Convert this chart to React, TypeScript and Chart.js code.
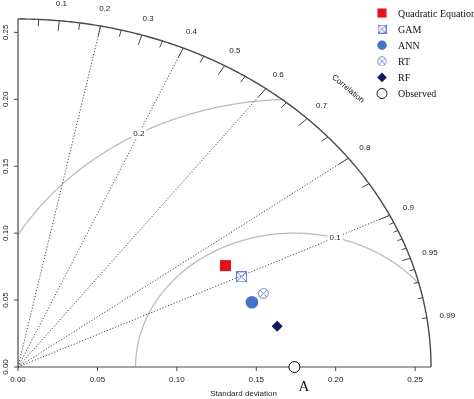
import React, { useEffect, useRef } from 'react';
import { Chart, registerables } from 'chart.js';
import * as helpers from 'chart.js/helpers';

Chart.register(...registerables);

// ---- data ----
const models = ['Quadratic Equation', 'GAM', 'ANN', 'RT', 'RF'];
const modelSd = [0.151, 0.156, 0.155, 0.164, 0.166];
const modelCorr = [0.865, 0.902, 0.95, 0.942, 0.983];
const observedLabel = 'Observed';
const observedSd = 0.174;
const maxSd = 0.26;
const sdTicks = [0, 0.05, 0.1, 0.15, 0.2, 0.25];
const sdTickLabels = ['0.00', '0.05', '0.10', '0.15', '0.20', '0.25'];
const corrLabelValues = [0.1, 0.2, 0.3, 0.4, 0.5, 0.6, 0.7, 0.8, 0.9, 0.95, 0.99];
const corrLines = [0.2, 0.4, 0.6, 0.8, 0.9];
const bigTicks = [0.1, 0.2, 0.3, 0.4, 0.5, 0.6, 0.7, 0.8, 0.9];
const medTicks = [0.05, 0.15, 0.25, 0.35, 0.45, 0.55, 0.65, 0.75, 0.85, 0.95];
const smallTicks = [0.91, 0.92, 0.93, 0.94, 0.96, 0.97, 0.98, 0.99];
const rmsLevels = [0.1, 0.2];
const rmsLabelOnCorr = [0.9, 0.4];

const SANS = '"Liberation Sans", Arial, sans-serif';
const SERIF = '"Liberation Serif", "Times New Roman", serif';

function makeBoxX(size: number, color: string) {
  const c = document.createElement('canvas');
  c.width = size; c.height = size;
  const g = c.getContext('2d')!;
  g.strokeStyle = color; g.lineWidth = 1;
  g.strokeRect(0.5, 0.5, size - 1, size - 1);
  g.beginPath();
  g.moveTo(0.5, 0.5); g.lineTo(size - 0.5, size - 0.5);
  g.moveTo(size - 0.5, 0.5); g.lineTo(0.5, size - 0.5);
  g.stroke();
  return c;
}
function makeCircleX(size: number, color: string) {
  const c = document.createElement('canvas');
  c.width = size; c.height = size;
  const g = c.getContext('2d')!;
  const m = size / 2, r = size / 2 - 0.6;
  g.strokeStyle = color; g.lineWidth = 1;
  g.beginPath(); g.arc(m, m, r, 0, Math.PI * 2); g.stroke();
  const d = r * Math.SQRT1_2;
  g.beginPath();
  g.moveTo(m - d, m - d); g.lineTo(m + d, m + d);
  g.moveTo(m + d, m - d); g.lineTo(m - d, m + d);
  g.stroke();
  return c;
}

export default function App() {
  const ref = useRef<HTMLCanvasElement>(null);
  useEffect(() => {
    const canvas = ref.current!;
    const gamColor = '#6a76d8';
    const rtColor = '#7482c6';
    const styles: any[] = [
      { pointStyle: 'rect', radius: 7.8, bg: '#e8101a', border: '#e8101a', bw: 0, lr: 6.4 },
      { pointStyle: makeBoxX(11, gamColor), legendStyle: makeBoxX(9, gamColor), radius: 5.5, bg: 'rgba(0,0,0,0)', border: gamColor, bw: 1, lr: 4.5 },
      { pointStyle: 'circle', radius: 6.3, bg: '#4472c4', border: '#4472c4', bw: 0, lr: 4.7 },
      { pointStyle: makeCircleX(11, rtColor), legendStyle: makeCircleX(10, '#8a98d8'), radius: 5.5, bg: 'rgba(0,0,0,0)', border: rtColor, bw: 1, lr: 4.5 },
      { pointStyle: 'rectRot', radius: 5.5, bg: '#0d1b5e', border: '#0d1b5e', bw: 0, lr: 4.8 },
    ];
    const obsStyle = { pointStyle: 'circle', radius: 5.5, bg: '#ffffff', border: '#111111', bw: 1, lr: 5 };

    const datasets: any[] = models.map((m, i) => ({
      label: m,
      data: [{ x: modelSd[i] * modelCorr[i], y: modelSd[i] * Math.sqrt(1 - modelCorr[i] * modelCorr[i]) }],
      pointStyle: styles[i].pointStyle,
      pointRadius: styles[i].radius,
      backgroundColor: styles[i].bg,
      borderColor: styles[i].border,
      borderWidth: styles[i].bw,
      clip: false,
    }));
    datasets.push({
      label: observedLabel,
      data: [{ x: observedSd, y: 0 }],
      pointStyle: obsStyle.pointStyle,
      pointRadius: obsStyle.radius,
      backgroundColor: obsStyle.bg,
      borderColor: obsStyle.border,
      borderWidth: obsStyle.bw,
      clip: false,
    });

    const taylorPlugin = {
      id: 'taylor',
      beforeDatasetsDraw(chart: any) {
        const { ctx } = chart;
        const xs = chart.scales.x, ys = chart.scales.y;
        const P = (vx: number, vy: number) => [xs.getPixelForValue(vx), ys.getPixelForValue(vy)];
        const polar = (r: number, c: number) => P(r * c, r * Math.sqrt(Math.max(0, 1 - c * c)));
        ctx.save();
        // RMS contours
        ctx.strokeStyle = '#bcbcbc';
        ctx.lineWidth = 1.3;
        rmsLevels.forEach((r) => {
          ctx.beginPath();
          let started = false;
          for (let i = 0; i <= 1440; i++) {
            const t = (Math.PI * i) / 1440;
            const vx = observedSd + r * Math.cos(t);
            const vy = r * Math.sin(t);
            if (vx < 0 || Math.hypot(vx, vy) > maxSd) { started = false; continue; }
            const [X, Y] = P(vx, vy);
            if (!started) { ctx.moveTo(X, Y); started = true; } else ctx.lineTo(X, Y);
          }
          ctx.stroke();
        });
        // correlation lines
        ctx.strokeStyle = '#444';
        ctx.lineWidth = 1;
        ctx.setLineDash([1.2, 1.8]);
        corrLines.forEach((c) => {
          const [x0, y0] = P(0, 0);
          const [x1, y1] = polar(maxSd, c);
          ctx.beginPath(); ctx.moveTo(x0, y0); ctx.lineTo(x1, y1); ctx.stroke();
        });
        ctx.setLineDash([]);
        // outer arc
        ctx.strokeStyle = '#4a4a4a';
        ctx.lineWidth = 1.4;
        ctx.beginPath();
        for (let i = 0; i <= 360; i++) {
          const t = (Math.PI / 2) * (i / 360);
          const [X, Y] = P(maxSd * Math.cos(t), maxSd * Math.sin(t));
          if (i === 0) ctx.moveTo(X, Y); else ctx.lineTo(X, Y);
        }
        ctx.stroke();
        // axes
        ctx.lineWidth = 1.2;
        ctx.beginPath();
        let [a, b] = P(0, 0); ctx.moveTo(a, b);
        [a, b] = P(maxSd, 0); ctx.lineTo(a, b);
        [a, b] = P(0, 0); ctx.moveTo(a, b);
        [a, b] = P(0, maxSd); ctx.lineTo(a, b);
        ctx.stroke();
        // arc ticks
        ctx.lineWidth = 1;
        const tick = (c: number, f: number) => {
          const [x1, y1] = polar(maxSd, c);
          const [x2, y2] = polar(maxSd * (1 - f), c);
          ctx.beginPath(); ctx.moveTo(x1, y1); ctx.lineTo(x2, y2); ctx.stroke();
        };
        bigTicks.forEach((c) => tick(c, 0.03));
        medTicks.forEach((c) => tick(c, 0.02));
        smallTicks.forEach((c) => tick(c, 0.012));
        // axis ticks
        sdTicks.forEach((v) => {
          const [X, Y] = P(v, 0);
          ctx.beginPath(); ctx.moveTo(X, Y); ctx.lineTo(X, Y + 4); ctx.stroke();
          const [X2, Y2] = P(0, v);
          ctx.beginPath(); ctx.moveTo(X2, Y2); ctx.lineTo(X2 - 4, Y2); ctx.stroke();
        });
        // tick labels
        ctx.fillStyle = '#222';
        ctx.font = `8px ${SANS}`;
        ctx.textAlign = 'center';
        ctx.textBaseline = 'middle';
        sdTicks.forEach((v, i) => {
          const [X, Y] = P(v, 0);
          ctx.fillText(sdTickLabels[i], X, Y + 13);
          const [X2, Y2] = P(0, v);
          ctx.save();
          ctx.translate(X2 - 12, Y2);
          ctx.rotate(-Math.PI / 2);
          ctx.fillText(sdTickLabels[i], 0, 0);
          ctx.restore();
        });
        // correlation labels
        corrLabelValues.forEach((c) => {
          const [X, Y] = polar(maxSd * 1.05, c);
          ctx.fillText(String(c), X, Y);
        });
        // "Correlation"
        {
          const [X, Y] = polar(maxSd * 1.13, Math.SQRT1_2);
          const ang = Math.atan2(ys.getPixelForValue(0) - ys.getPixelForValue(1), xs.getPixelForValue(1) - xs.getPixelForValue(0));
          ctx.save();
          ctx.translate(X, Y);
          ctx.rotate(ang);
          ctx.fillText('Correlation', 0, 0);
          ctx.restore();
        }
        // RMS labels
        rmsLevels.forEach((r, i) => {
          const c = rmsLabelOnCorr[i];
          const t = observedSd * c + Math.sqrt(observedSd * observedSd * c * c - observedSd * observedSd + r * r);
          const [X, Y] = polar(t, c);
          const txt = String(r);
          const w = ctx.measureText(txt).width;
          ctx.fillStyle = '#fff';
          ctx.fillRect(X - w / 2 - 2, Y - 5, w + 4, 10);
          ctx.fillStyle = '#222';
          ctx.fillText(txt, X, Y);
        });
        // axis title
        {
          const [X, Y] = P(0.142, 0);
          ctx.fillText('Standard deviation', X, Y + 27);
          ctx.font = `15px ${SERIF}`;
          ctx.fillStyle = '#111';
          const [X2] = P(0.180, 0);
          ctx.fillText('A', X2, Y + 20);
        }
        ctx.restore();
      },
      afterDraw(chart: any) {
        const { ctx } = chart;
        ctx.save();
        const lx = 382, tx = 398, y0 = 13, dy = 16.1;
        const all = [...styles, obsStyle];
        const labels = [...models, observedLabel];
        ctx.font = `10px ${SERIF}`;
        ctx.textAlign = 'left';
        ctx.textBaseline = 'middle';
        all.forEach((s, i) => {
          const y = y0 + i * dy;
          ctx.fillStyle = s.bg;
          ctx.strokeStyle = s.border;
          ctx.lineWidth = s.bw;
          helpers.drawPoint(ctx, { pointStyle: s.legendStyle || s.pointStyle, radius: s.lr, borderWidth: s.bw, rotation: 0 }, lx, y);
          ctx.fillStyle = '#111';
          ctx.fillText(labels[i], tx, y + 1);
        });
        ctx.restore();
      },
    };

    const chart = new Chart(canvas, {
      type: 'scatter',
      data: { datasets },
      options: {
        responsive: false,
        animation: false,
        layout: { padding: { left: 18, right: 43, top: 19, bottom: 32 } },
        scales: {
          x: { type: 'linear', min: 0, max: maxSd, display: false },
          y: { type: 'linear', min: 0, max: maxSd, display: false },
        },
        plugins: { legend: { display: false }, tooltip: { enabled: false } },
      },
      plugins: [taylorPlugin],
    } as any);
    return () => chart.destroy();
  }, []);
  return (
    <div style={{ position: 'absolute', left: 0, top: 0, width: 474, height: 399, background: '#fff' }}>
      <canvas ref={ref} width={474} height={399} style={{ display: 'block' }} />
    </div>
  );
}
